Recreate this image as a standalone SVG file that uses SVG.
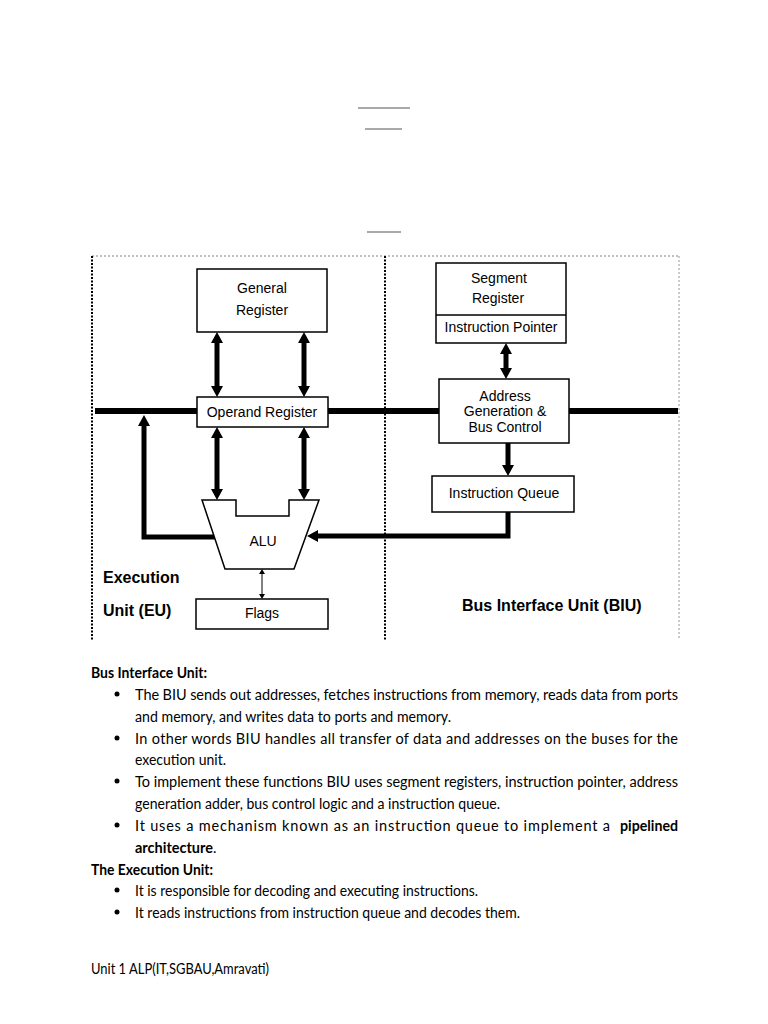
<svg xmlns="http://www.w3.org/2000/svg" width="768" height="1024" viewBox="0 0 768 1024">
<style>
.box{fill:#fff;stroke:#000;stroke-width:1.5}
.d{font-family:"Liberation Sans",Arial,sans-serif;font-size:14px;fill:#000;text-anchor:middle}
.lbl{font-family:"Liberation Sans",Arial,sans-serif;font-size:16px;font-weight:bold;fill:#000}
.arr{stroke:#000;stroke-width:5;fill:none}
.p{font-family:Lato,"Open Sans",sans-serif;font-size:14.5px;fill:#000}
.b{font-weight:bold}
.bul{fill:#000}
</style>
<defs>
<marker id="ah" viewBox="0 -6 11 12" refX="0" refY="0" markerWidth="11" markerHeight="12" markerUnits="userSpaceOnUse" orient="auto-start-reverse">
<path d="M0,-6 L11,0 L0,6 z" fill="#000"/>
</marker>
<marker id="sh" viewBox="0 -3 5 6" refX="0" refY="0" markerWidth="5" markerHeight="6" markerUnits="userSpaceOnUse" orient="auto-start-reverse">
<path d="M0,-3 L5,0 L0,3 z" fill="#000"/>
</marker>
</defs>
<rect width="768" height="1024" fill="#fff"/>
<g id="toplines" stroke="#555" stroke-width="1.2">
<line x1="358" y1="108" x2="410" y2="108"/>
<line x1="365" y1="129" x2="402" y2="129"/>
<line x1="367" y1="232" x2="401" y2="232"/>
</g>
<g id="frame" fill="none">
<line x1="92" y1="256" x2="679" y2="256" stroke="#aaa" stroke-width="1.5" stroke-dasharray="2,2"/>
<line x1="679" y1="256" x2="679" y2="640" stroke="#bbb" stroke-width="1.5" stroke-dasharray="2,2"/>
<line x1="92" y1="256" x2="92" y2="640" stroke="#000" stroke-width="2" stroke-dasharray="2,1.5"/>
<line x1="385" y1="256" x2="385" y2="641" stroke="#000" stroke-width="2" stroke-dasharray="2,1.5"/>
</g>
<g id="connectors">
<line x1="95" y1="411" x2="678" y2="411" stroke="#000" stroke-width="6"/>
<line class="arr" x1="217" y1="343" x2="217" y2="386" marker-start="url(#ah)" marker-end="url(#ah)"/>
<line class="arr" x1="304" y1="343" x2="304" y2="386" marker-start="url(#ah)" marker-end="url(#ah)"/>
<line class="arr" x1="217" y1="438" x2="217" y2="489" marker-start="url(#ah)" marker-end="url(#ah)"/>
<line class="arr" x1="304" y1="438" x2="304" y2="489" marker-start="url(#ah)" marker-end="url(#ah)"/>
<line class="arr" x1="506" y1="354" x2="506" y2="368" marker-start="url(#ah)" marker-end="url(#ah)"/>
<line class="arr" x1="508" y1="443" x2="508" y2="465" marker-end="url(#ah)"/>
<polyline class="arr" points="508,512 508,536 318,536" marker-end="url(#ah)"/>
<polyline class="arr" points="215,537 144,537 144,426" marker-end="url(#ah)"/>
<line x1="262" y1="574" x2="262" y2="594" stroke="#000" stroke-width="1" marker-start="url(#sh)" marker-end="url(#sh)"/>
</g>
<g id="general-register">
<rect class="box" x="197" y="269" width="130" height="63"/>
<text class="d" x="262" y="293">General</text>
<text class="d" x="262" y="315">Register</text>
</g>
<g id="operand-register">
<rect class="box" x="197" y="397" width="131" height="30"/>
<text class="d" x="262" y="417">Operand Register</text>
</g>
<g id="alu">
<path class="box" d="M202,500 L236,500 L236,516 L289,516 L289,500 L319,500 L294,569 L225,569 Z"/>
<text class="d" x="263" y="546">ALU</text>
</g>
<g id="flags">
<rect class="box" x="196" y="599" width="132" height="30"/>
<text class="d" x="262" y="618">Flags</text>
</g>
<g id="segment-register">
<rect class="box" x="436" y="263" width="130" height="80"/>
<line x1="436" y1="315" x2="566" y2="315" stroke="#000" stroke-width="1.5"/>
<text class="d" x="499" y="283">Segment</text>
<text class="d" x="498" y="303">Register</text>
<text class="d" x="501" y="332" font-size="13.5">Instruction Pointer</text>
</g>
<g id="address-generation">
<rect class="box" x="439" y="379" width="130" height="64"/>
<text class="d" x="505" y="401">Address</text>
<text class="d" x="505" y="416">Generation &amp;</text>
<text class="d" x="505" y="432">Bus Control</text>
</g>
<g id="instruction-queue">
<rect class="box" x="432" y="476" width="142" height="36"/>
<text class="d" x="504" y="498" font-size="13.5">Instruction Queue</text>
</g>
<g id="unit-labels">
<text class="lbl" x="103" y="583">Execution</text>
<text class="lbl" x="103" y="616">Unit (EU)</text>
<text class="lbl" x="462" y="611">Bus Interface Unit (BIU)</text>
</g>
<g id="body-text">
<text class="p b" x="91" y="678" textLength="116" lengthAdjust="spacingAndGlyphs">Bus Interface Unit:</text>
<circle class="bul" cx="117" cy="694" r="2.5"/>
<text class="p" x="135" y="700" textLength="543" lengthAdjust="spacing">The BIU sends out addresses, fetches instructions from memory, reads data from ports</text>
<text class="p" x="135" y="722" textLength="316" lengthAdjust="spacingAndGlyphs">and memory, and writes data to ports and memory.</text>
<circle class="bul" cx="117" cy="738" r="2.5"/>
<text class="p" x="135" y="744" textLength="543" lengthAdjust="spacing">In other words BIU handles all transfer of data and addresses on the buses for the</text>
<text class="p" x="135" y="765" textLength="91" lengthAdjust="spacingAndGlyphs">execution unit.</text>
<circle class="bul" cx="117" cy="781" r="2.5"/>
<text class="p" x="135" y="787" textLength="543" lengthAdjust="spacing">To implement these functions BIU uses segment registers, instruction pointer, address</text>
<text class="p" x="135" y="809" textLength="365" lengthAdjust="spacingAndGlyphs">generation adder, bus control logic and a instruction queue.</text>
<circle class="bul" cx="117" cy="825" r="2.5"/>
<text class="p" x="135" y="831" textLength="475" lengthAdjust="spacing">It uses a mechanism known as an instruction queue to implement a</text>
<text class="p b" x="678" y="831" text-anchor="end" textLength="58" lengthAdjust="spacingAndGlyphs">pipelined</text>
<text class="p" x="135" y="853"><tspan class="b">architecture</tspan>.</text>
<text class="p b" x="91" y="875" textLength="122" lengthAdjust="spacingAndGlyphs">The Execution Unit:</text>
<circle class="bul" cx="117" cy="890" r="2.5"/>
<text class="p" x="135" y="896" textLength="343" lengthAdjust="spacingAndGlyphs">It is responsible for decoding and executing instructions.</text>
<circle class="bul" cx="117" cy="912" r="2.5"/>
<text class="p" x="135" y="918" textLength="385" lengthAdjust="spacingAndGlyphs">It reads instructions from instruction queue and decodes them.</text>
<text class="p" x="91" y="974" textLength="178" lengthAdjust="spacingAndGlyphs">Unit 1 ALP(IT,SGBAU,Amravati)</text>
</g>
</svg>
